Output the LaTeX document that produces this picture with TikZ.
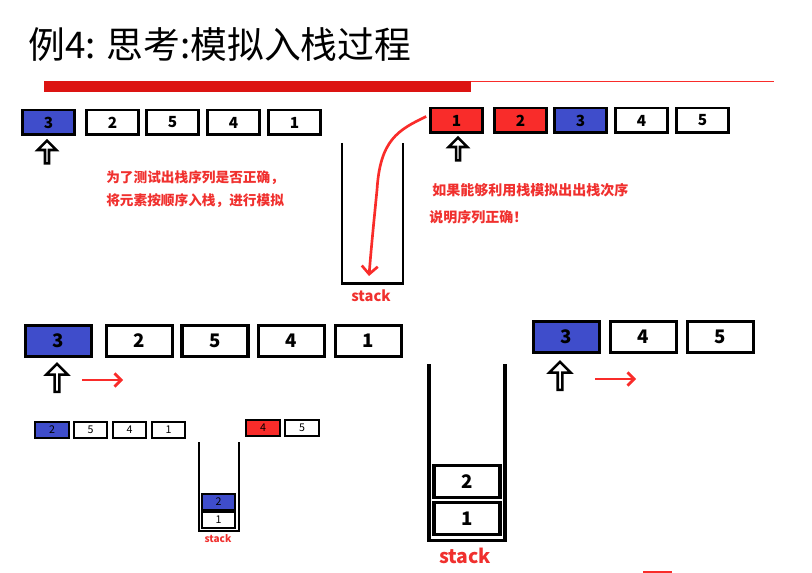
\documentclass[tikz,border=0pt]{standalone}
\usepackage{fontspec}
\setmainfont{Noto Sans CJK SC}
\usepackage{tikz}
\usetikzlibrary{arrows.meta,shapes.arrows}
\definecolor{cellblue}{HTML}{3F4DCB}
\definecolor{cellred}{HTML}{F92C2A}
\definecolor{notered}{HTML}{F0302E}
\definecolor{barred}{HTML}{DC1412}
\tikzset{
  midcell/.style={draw=black,line width=1.9pt,fill=white,inner sep=0pt,minimum width=39pt,minimum height=18.4pt,font=\fontsize{11.5}{13}\bfseries},
  bigcell/.style={draw=black,line width=2.3pt,fill=white,inner sep=0pt,minimum width=49.5pt,minimum height=23.5pt,font=\fontsize{14}{16}\bfseries},
  tinycell/.style={draw=black,line width=1.5pt,fill=white,inner sep=0pt,minimum width=25pt,minimum height=12pt,font=\fontsize{8}{9}\selectfont},
  note/.style={anchor=west,inner sep=0pt,text=notered,font=\fontsize{10.5}{12}\bfseries},
  stacklabel/.style={inner sep=0pt,text=notered,font=\fontsize{11}{13}\bfseries},
  uparrow/.style={draw=black,fill=white,line width=1.9pt,shape=single arrow,shape border rotate=90,inner sep=0pt,minimum width=14pt,minimum height=17pt,single arrow head extend=3.5pt,single arrow tip angle=90},
  redarrow/.style={draw=cellred,line width=2pt,-{Straight Barb[length=5pt,width=10pt]}},
  stackwall/.style={draw=black,line join=miter}
}
\begin{document}
\begin{tikzpicture}[x=0.75pt,y=-0.75pt]
\useasboundingbox (0,0) rectangle (812,573);
% Title and rule
\node[anchor=west,inner sep=0pt,font=\fontsize{27.6}{30}\selectfont] (title) at (28,45) {例4: 思考:模拟入栈过程};
\fill[barred] (44,81) rectangle (471,92);
\draw[cellred,line width=1.1pt] (471,81.5) -- (774,81.5);
% Top left row
\node[midcell,fill=cellblue] (a3) at (48.5,122.5) {3};
\node[midcell] (a2) at (112.5,122.5) {2};
\node[midcell] (a5) at (172.5,122.5) {5};
\node[midcell] (a4) at (233.5,122.5) {4};
\node[midcell] (a1) at (294.5,122.5) {1};
\node[uparrow] (aup) at (47,153) {};
\node[note,font=\fontsize{10.25}{12}\bfseries] (notea) at (106,178) {为了测试出栈序列是否正确，};
\node[note,font=\fontsize{10.25}{12}\bfseries] (noteb) at (106,201) {将元素按顺序入栈，进行模拟};
% Top right row
\node[midcell,fill=cellred] (b1) at (456.5,120.5) {1};
\node[midcell,fill=cellred] (b2) at (520.5,120.5) {2};
\node[midcell,fill=cellblue] (b3) at (580.5,120.5) {3};
\node[midcell] (b4) at (641.5,120.5) {4};
\node[midcell] (b5) at (702.5,120.5) {5};
\node[uparrow] (bup) at (458,150) {};
\node[note] (notec) at (432,190) {如果能够利用栈模拟出出栈次序};
\node[note] (noted) at (429,217) {说明序列正确！};
% Empty stack
\draw[stackwall,line width=1.9pt] (342,143) -- (342,283.5) -- (403,283.5) -- (403,143);
\node[stacklabel] (labela) at (371,296) {stack};
\coordinate (drop) at (369,276);
\draw[cellred,line width=2pt,-{Straight Barb[length=6pt,width=12pt]}] (b1.west) ++(-3,-4) .. controls (398,130) and (380,140) .. (377,190) .. controls (374,220) and (371,250) .. (drop);
% Lower left row
\node[bigcell,fill=cellblue] (c3) at (58.5,341) {3};
\node[bigcell] (c2) at (139.5,341) {2};
\node[bigcell] (c5) at (215,341) {5};
\node[bigcell] (c4) at (291.5,341) {4};
\node[bigcell] (c1) at (368.5,341) {1};
\node[uparrow,minimum width=16pt,minimum height=21pt] (cup) at (57,379) {};
\coordinate (cfrom) at (82,380);
\coordinate (cto) at (123,380);
\draw[redarrow] (cfrom) -- (cto);
% Small rows
\node[tinycell,fill=cellblue] (d2) at (52,429.5) {2};
\node[tinycell] (d5) at (90.5,429.5) {5};
\node[tinycell] (d4) at (129.5,429.5) {4};
\node[tinycell] (d1) at (168.5,429.5) {1};
\node[tinycell,fill=cellred] (e4) at (263,427.5) {4};
\node[tinycell] (e5) at (302,427.5) {5};
% Small stack
\draw[stackwall,line width=1.2pt] (199,442) -- (199,531) -- (239,531) -- (239,442);
\node[tinycell,fill=cellblue] (f2) at (218.5,501.5) {2};
\node[tinycell] (f1) at (218.5,520) {1};
\node[stacklabel,font=\fontsize{7.5}{9}\bfseries] (labelb) at (218,539) {stack};
% Big stack
\draw[stackwall,line width=2.3pt] (429,364) -- (429,540.5) -- (505,540.5) -- (505,364);
\node[bigcell] (g2) at (467,481.5) {2};
\node[bigcell] (g1) at (467,518.5) {1};
\node[stacklabel,font=\fontsize{14.5}{16}\bfseries] (labelc) at (465,556) {stack};
% Lower right row
\node[bigcell,fill=cellblue] (h3) at (566.5,337) {3};
\node[bigcell] (h4) at (643.5,337) {4};
\node[bigcell] (h5) at (720.5,337) {5};
\node[uparrow,minimum width=16pt,minimum height=21pt] (hup) at (560,377) {};
\coordinate (hfrom) at (595,379);
\coordinate (hto) at (636,379);
\draw[redarrow] (hfrom) -- (hto);
% Cut off mark at the bottom
\fill[cellred] (643,571) rectangle (672,573);
\end{tikzpicture}
\end{document}
